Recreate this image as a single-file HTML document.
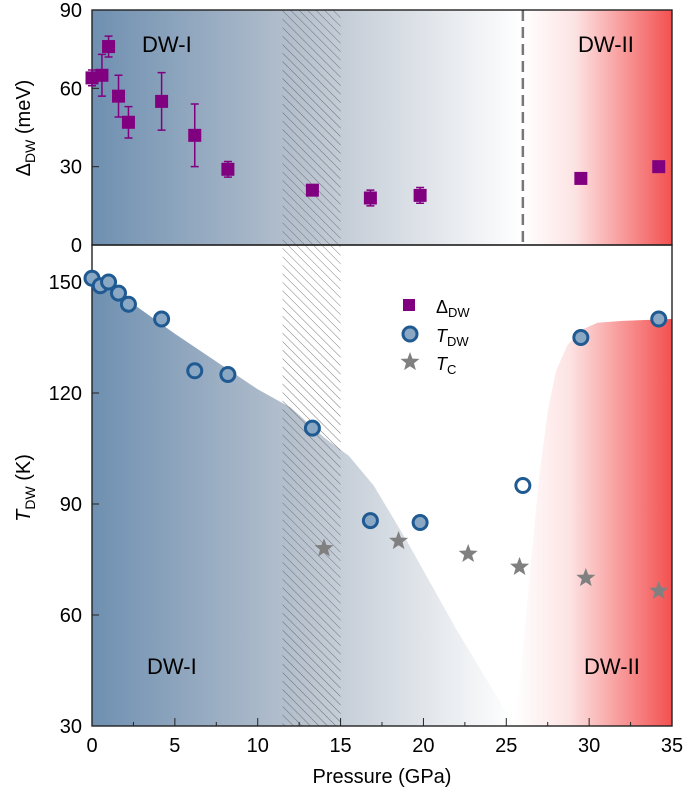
<!DOCTYPE html>
<html><head><meta charset="utf-8"><style>
body{margin:0;background:#fff;font-family:"Liberation Sans",Arial,sans-serif}
svg text{font-family:"Liberation Sans",Arial,sans-serif}
</style></head><body>
<svg id="c" width="685" height="798">
<defs>
<linearGradient id="gb" x1="0" x2="1"><stop offset="0" stop-color="#6f90b1"/><stop offset="0.5" stop-color="#b9c3cf"/><stop offset="1" stop-color="#ffffff"/></linearGradient>
<linearGradient id="gr" x1="0" x2="1"><stop offset="0" stop-color="#ffffff"/><stop offset="0.35" stop-color="#fde3e3"/><stop offset="1" stop-color="#f35050"/></linearGradient>
<pattern id="hatch" width="6" height="6" patternUnits="userSpaceOnUse" patternTransform="rotate(-45)"><line x1="0" y1="0" x2="0" y2="6" stroke="#555" stroke-width="0.9"/></pattern>
</defs>
<g id="layer"></g>
</svg>
<script>
const deltaP=[0,0.6,1,1.6,2.2,4.2,6.2,8.2,13.3,16.8,19.8,29.5,34.2];
const deltaV=[64,65,76,57,47,55,42,29,21,18,19,25.5,30];
const deltaErr=[3,8,4,8,6,11,12,3,2,3,3,2,1];
const tdwP=[0,0.5,1,1.6,2.2,4.2,6.2,8.2,13.3,16.8,19.8,29.5,34.2];
const tdwV=[151,149,150,147,144,140,126,125,110.5,85.5,85,135,140];
const openP=[26];const openV=[95];
const tcP=[14,18.5,22.7,25.8,29.8,34.2];
const tcV=[78,80,76.5,73,70,66.5];
const dw1P=[0,5,10,12,14,15.5,17,19,22,25.5];
const dw1V=[152,136,121,116,108,103,95,80,56,30];
const dw2P=[25.5,26,26.5,27,27.5,28,28.7,29.5,30.5,32,35];
const dw2V=[30,50,75,98,115,126,133,137,139,139.5,140];
const xTicks=[0,5,10,15,20,25,30,35];
const topTicks=[0,30,60,90];
const botTicks=[30,60,90,120,150];

const X0=92,X1=672;
const x=p=>X0+(p/35)*(X1-X0);
const yT=v=>245-(v/90)*235;
const yB=v=>726-(v-30)/120*444;
const NS="http://www.w3.org/2000/svg";
const g=document.getElementById('layer');
function mk(t,a,parent){const e=document.createElementNS(NS,t);for(const k in a)e.setAttribute(k,a[k]);(parent||g).appendChild(e);return e;}

let e=mk('rect',{x:X0,y:10,width:x(26)-X0,height:235,fill:'url(#gb)'});


e=mk('rect',{x:x(26),y:10,width:X1-x(26),height:235,fill:'url(#gr)'});


let d='M'+x(0)+','+yB(30);dw1P.forEach((p,i)=>d+=' L'+x(p)+','+yB(dw1V[i]));d+='Z';
e=mk('path',{d:d,fill:'url(#gb)'});


d='M'+x(35)+','+yB(30);dw2P.forEach((p,i)=>d+=' L'+x(p)+','+yB(dw2V[i]));d+='Z';
e=mk('path',{d:d,fill:'url(#gr)'});


e=mk('rect',{x:x(11.5),y:10,width:x(15)-x(11.5),height:716,fill:'url(#hatch)',opacity:0.85});


e=mk('line',{x1:x(26),x2:x(26),y1:10,y2:245,stroke:'#777','stroke-width':2.5,'stroke-dasharray':'11,6'});


e=mk('rect',{x:X0,y:10,width:X1-X0,height:235,fill:'none',stroke:'#222','stroke-width':1.4});


e=mk('rect',{x:X0,y:245,width:X1-X0,height:481,fill:'none',stroke:'#222','stroke-width':1.4});


xTicks.forEach(t=>{
 e=mk('line',{x1:x(t),x2:x(t),y1:726,y2:718,stroke:'#222'});
 
 
 e=mk('text',{x:x(t),y:752,'font-size':20,'text-anchor':'middle'});e.textContent=t;
 
 
});
for(let t=2.5;t<35;t+=5){e=mk('line',{x1:x(t),x2:x(t),y1:726,y2:722,stroke:'#222'});}
topTicks.forEach(t=>{
 e=mk('line',{x1:X0,x2:X0+7,y1:yT(t),y2:yT(t),stroke:'#222'});
 
 
 e=mk('text',{x:X0-10,y:yT(t)+7,'font-size':20,'text-anchor':'end'});e.textContent=t;
 
 
});
botTicks.forEach(t=>{
 e=mk('line',{x1:X0,x2:X0+7,y1:yB(t),y2:yB(t),stroke:'#222'});
 
 
 e=mk('text',{x:X0-10,y:yB(t)+7,'font-size':20,'text-anchor':'end'});e.textContent=t;
 
 
});
deltaP.forEach((p,i)=>{
 const cx=x(p),cy=yT(deltaV[i]),er=deltaErr[i];
 e=mk('path',{d:`M${cx},${yT(deltaV[i]+er)}V${yT(deltaV[i]-er)}M${cx-4},${yT(deltaV[i]+er)}h8M${cx-4},${yT(deltaV[i]-er)}h8`,stroke:'#800080','stroke-width':1.5,fill:'none'});
 
 
 e=mk('rect',{x:cx-6.5,y:cy-6.5,width:13,height:13,fill:'#800080'});
 
 
});
function star(cx,cy,r){let s='';for(let k=0;k<10;k++){const a=-Math.PI/2+k*Math.PI/5,rr=k%2?r*0.42:r;s+=(k?'L':'M')+(cx+rr*Math.cos(a))+','+(cy+rr*Math.sin(a));}return s+'Z';}
tcP.forEach((p,i)=>{e=mk('path',{d:star(x(p),yB(tcV[i]),10),fill:'#808080'});
 
 });
tdwP.forEach((p,i)=>{e=mk('circle',{cx:x(p),cy:yB(tdwV[i]),r:7,fill:'#8aa8c4',stroke:'#1f5a92','stroke-width':3});
 
 });
openP.forEach((p,i)=>{e=mk('circle',{cx:x(p),cy:yB(openV[i]),r:7,fill:'#fff',stroke:'#1f5a92','stroke-width':3});
 
 });
e=mk('rect',{x:403,y:299,width:12,height:12,fill:'#800080'});
e=mk('circle',{cx:410,cy:334,r:7,fill:'#8aa8c4',stroke:'#1f5a92','stroke-width':3});
e=mk('path',{d:star(410,362,10),fill:'#808080'});
</script>
<svg width="685" height="798" style="position:absolute;left:0;top:0">
<text x="436" y="313" font-size="18">Δ<tspan font-size="13" dy="4">DW</tspan></text>
<text x="436" y="342" font-size="18" font-style="italic">T<tspan font-size="13" dy="4" font-style="normal">DW</tspan></text>
<text x="436" y="370" font-size="18" font-style="italic">T<tspan font-size="13" dy="4" font-style="normal">C</tspan></text>
<text x="142" y="52" font-size="22">DW-I</text>
<text x="578" y="52" font-size="22">DW-II</text>
<text x="147" y="674" font-size="22">DW-I</text>
<text x="584" y="674" font-size="22">DW-II</text>
<text x="382" y="783" font-size="20" text-anchor="middle">Pressure (GPa)</text>
<text transform="translate(30,128) rotate(-90)" font-size="20" text-anchor="middle">Δ<tspan font-size="14" dy="5">DW</tspan><tspan dy="-5"> (meV)</tspan></text>
<text transform="translate(30,488) rotate(-90)" font-size="20" text-anchor="middle"><tspan font-style="italic">T</tspan><tspan font-size="14" dy="5">DW</tspan><tspan dy="-5">  (K)</tspan></text>
</svg>
</body></html>
